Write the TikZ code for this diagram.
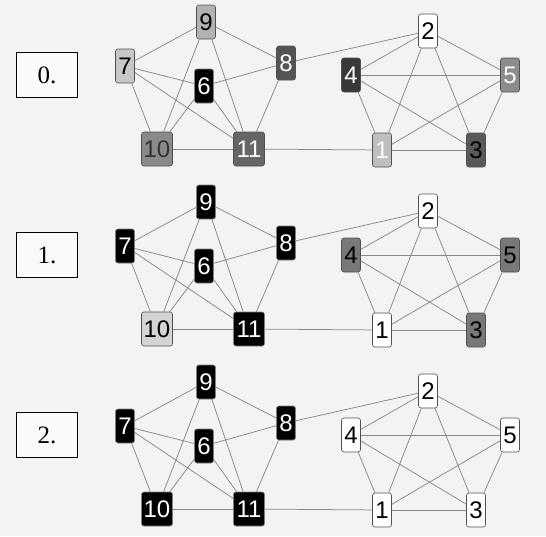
\documentclass[tikz,border=0pt]{standalone}
\usepackage{fontspec}
\newfontfamily\vsans{Liberation Sans}
\newfontfamily\lserif{Liberation Serif}
\definecolor{bgc}{HTML}{F3F3F3}
\definecolor{edgec}{HTML}{888888}
\definecolor{bord}{HTML}{505050}
\tikzset{
  vert/.style={rounded corners=2.5pt, draw=bord, line width=0.6pt, minimum width=19pt, minimum height=34pt, inner sep=0pt, font={\vsans\fontsize{24}{26}\selectfont}},
  wide/.style={minimum width=31pt},
  blk/.style={fill=black, text=white, draw=gray},
  wht/.style={fill=white, text=black},
  edge/.style={draw=edgec, line width=0.75pt},
  lab/.style={draw=black, line width=1.3pt, fill=white!60!bgc, minimum width=61pt, minimum height=45pt, inner sep=0pt, font={\lserif\fontsize{25}{27}\selectfont}}
}
\newcommand\edgesof[1]{%
  \foreach \a/\b in {7/9,7/6,7/10,7/11,9/8,9/10,9/11,6/8,6/10,6/11,8/11,10/11,8/2,11/1,2/4,2/5,2/1,2/3,4/5,4/1,4/3,5/1,5/3,1/3}
    \draw[edge] (#1\a) -- (#1\b);}
\begin{document}
\begin{tikzpicture}[x=1pt,y=-1pt]
\fill[bgc] (0,0) rectangle (546,536);
\useasboundingbox (0,0) rectangle (546,536);
% ---------- panel 0 ----------
\node[lab] (l0) at (47,75) {0.};
\node[vert, fill=black!22] (a7) at (125,66) {7};
\node[vert, fill=black!30] (a9) at (206,22) {9};
\node[vert, blk] (a6) at (204,86) {6};
\node[vert, fill=black!67, text=white] (a8) at (286,63) {8};
\node[vert, wide, fill=black!46, text=black!80] (a10) at (157,149) {10};
\node[vert, wide, fill=black!60, text=white] (a11) at (249,149) {11};
\node[vert, wht] (a2) at (428,31) {2};
\node[vert, fill=black!78, text=white] (a4) at (351,75) {4};
\node[vert, fill=black!45, text=white] (a5) at (510,75) {5};
\node[vert, fill=black!25, text=white] (a1) at (382,150) {1};
\node[vert, fill=black!65, text=black] (a3) at (476,150) {3};
\edgesof{a}
% ---------- panel 1 ----------
\node[lab] (l1) at (47,255) {1.};
\node[vert, blk] (b7) at (125,246) {7};
\node[vert, blk] (b9) at (206,202) {9};
\node[vert, blk] (b6) at (204,266) {6};
\node[vert, blk] (b8) at (286,243) {8};
\node[vert, wide, fill=black!17, text=black] (b10) at (157,329) {10};
\node[vert, wide, blk] (b11) at (249,329) {11};
\node[vert, wht] (b2) at (428,211) {2};
\node[vert, fill=black!53, text=black] (b4) at (351,255) {4};
\node[vert, fill=black!53, text=black] (b5) at (510,255) {5};
\node[vert, wht] (b1) at (382,330) {1};
\node[vert, fill=black!53, text=black] (b3) at (476,330) {3};
\edgesof{b}
% ---------- panel 2 ----------
\node[lab] (l2) at (47,435) {2.};
\node[vert, blk] (c7) at (125,426) {7};
\node[vert, blk] (c9) at (206,382) {9};
\node[vert, blk] (c6) at (204,446) {6};
\node[vert, blk] (c8) at (286,423) {8};
\node[vert, wide, blk] (c10) at (157,509) {10};
\node[vert, wide, blk] (c11) at (249,509) {11};
\node[vert, wht] (c2) at (428,391) {2};
\node[vert, wht] (c4) at (351,435) {4};
\node[vert, wht] (c5) at (510,435) {5};
\node[vert, wht] (c1) at (382,510) {1};
\node[vert, wht] (c3) at (476,510) {3};
\edgesof{c}
\end{tikzpicture}
\end{document}
